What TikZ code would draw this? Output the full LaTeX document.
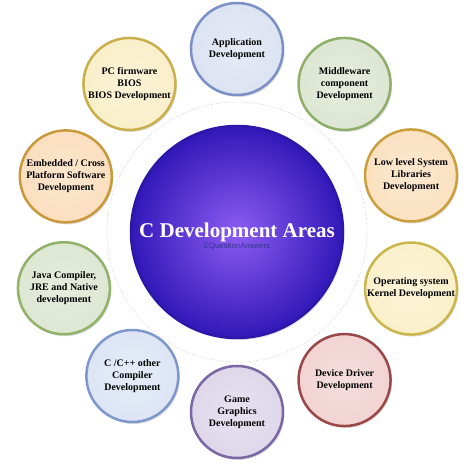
\documentclass[tikz,border=0pt]{standalone}
\usepackage{fontspec}
\setmainfont{Liberation Serif}
\newfontfamily\wmfont{Liberation Sans}
\usetikzlibrary{shadows,calc}
\definecolor{appfill}{HTML}{DCE3F2}\definecolor{appdraw}{HTML}{7B90C6}
\definecolor{midfill}{HTML}{DDE6D2}\definecolor{middraw}{HTML}{8EAF69}
\definecolor{lowfill}{HTML}{FBE1C1}\definecolor{lowdraw}{HTML}{C9A03C}
\definecolor{osfill}{HTML}{FBF0CB}\definecolor{osdraw}{HTML}{CBB54D}
\definecolor{devfill}{HTML}{F2D3D3}\definecolor{devdraw}{HTML}{9A4747}
\definecolor{gamefill}{HTML}{DED7EA}\definecolor{gamedraw}{HTML}{7A67A3}
\definecolor{ccfill}{HTML}{DDE5F5}\definecolor{ccdraw}{HTML}{7F98CC}
\definecolor{javafill}{HTML}{DDE7D2}\definecolor{javadraw}{HTML}{91B26A}
\definecolor{embfill}{HTML}{FBDFBF}\definecolor{embdraw}{HTML}{C99A3C}
\definecolor{pcfill}{HTML}{FAEFCA}\definecolor{pcdraw}{HTML}{C8B04A}
\definecolor{cinner}{HTML}{8C5CF2}\definecolor{couter}{HTML}{3218B8}
\definecolor{cdraw}{HTML}{2A18A8}\definecolor{wmcol}{HTML}{3B3295}
\begin{document}
\begin{tikzpicture}[x=1pt,y=1pt,
  area/.style 2 args={circle, minimum size=92pt, inner sep=0pt, line width=2.5pt,
    align=center, font=\bfseries\fontsize{10}{12}\selectfont,
    draw=#2, shading=radial, inner color=#1!75!white, outer color=#1,
    drop shadow={shadow xshift=1.5pt, shadow yshift=-2pt, opacity=0.25}},
  centre/.style={circle, minimum size=212pt, inner sep=0pt, line width=2.5pt,
    draw=cdraw, shading=radial, inner color=cinner, outer color=couter,
    drop shadow={shadow xshift=1.5pt, shadow yshift=-2pt, opacity=0.25}},
  ring/.style={draw=gray!45, dotted, line width=0.7pt},
  title/.style={text=white, font=\bfseries\fontsize{21}{24}\selectfont},
  wmark/.style={text=wmcol, font=\wmfont\fontsize{7.8}{9}\selectfont}
]
\useasboundingbox (0,0) rectangle (474,469);
\fill[white] (0,0) rectangle (474,469);
\coordinate (o) at (237,237);
\draw[ring] (o) circle (130);
\node[centre] (c) at (o) {};
\node[title] (ctitle) at (237,237) {C Development Areas};
\node[wmark] (cmark) at (237,223) {EQuestionAnswers};
\node[area={appfill}{appdraw}] (a1) at ($(o)+(90:183)$) {Application\\Development};
\node[area={midfill}{middraw}] (a2) at ($(o)+(54:183)$) {Middleware\\component\\Development};
\node[area={lowfill}{lowdraw}] (a3) at ($(o)+(18:183)$) {Low level System\\Libraries\\Development};
\node[area={osfill}{osdraw}] (a4) at ($(o)+(-18:183)$) {Operating system\\Kernel Development};
\node[area={devfill}{devdraw}] (a5) at ($(o)+(-54:183)$) {Device Driver\\Development};
\node[area={gamefill}{gamedraw}] (a6) at ($(o)+(-90:180)$) {Game\\Graphics\\Development};
\node[area={ccfill}{ccdraw}] (a7) at ($(o)+(-126:178)$) {C /C++ other\\Compiler\\Development};
\node[area={javafill}{javadraw}] (a8) at ($(o)+(-162:182)$) {Java Compiler,\\JRE and Native\\development};
\node[area={embfill}{embdraw}] (a9) at ($(o)+(162:180)$) {Embedded / Cross\\Platform Software\\Development};
\node[area={pcfill}{pcdraw}] (a10) at ($(o)+(126:183)$) {PC firmware\\BIOS\\BIOS Development};
\end{tikzpicture}
\end{document}
